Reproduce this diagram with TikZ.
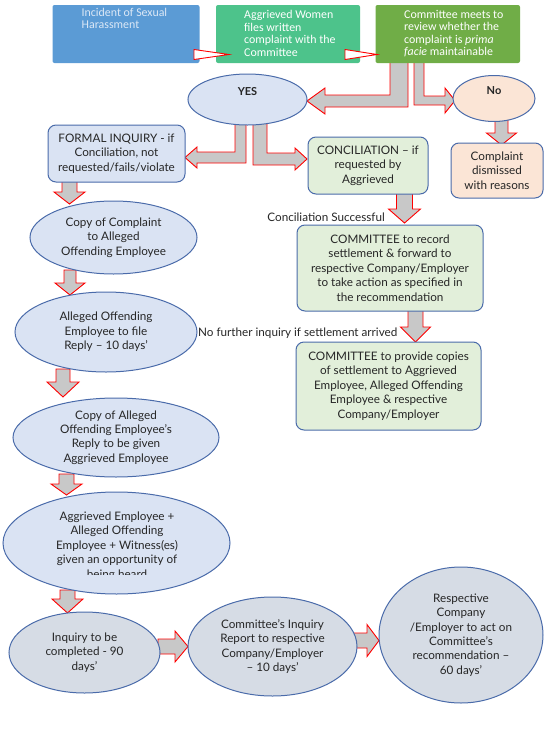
\documentclass[tikz,border=0pt]{standalone}
\usepackage{fontspec}
\setmainfont{Lato}
\newfontfamily\calfont{Carlito}
\usetikzlibrary{shapes.geometric}
\definecolor{bA}{HTML}{5B9BD5}
\definecolor{bB}{HTML}{4DC38B}
\definecolor{bC}{HTML}{70AD47}
\definecolor{bAtxt}{HTML}{DCE8F6}
\definecolor{edge}{HTML}{4A6BAA}
\definecolor{lblue}{HTML}{DAE3F3}
\definecolor{lgray}{HTML}{D6DCE5}
\definecolor{lgreen}{HTML}{E2EFDA}
\definecolor{lpeach}{HTML}{FBE5D6}
\definecolor{agray}{HTML}{C8C8C8}
\definecolor{txt}{HTML}{262626}
\pgfdeclarelayer{background}
\pgfsetlayers{background,main}
\newcommand{\DArrow}[6]{\draw[blk] ({#1-#5},#2) -- ({#1+#5},#2) -- ({#1+#5},#3) -- ({#1+#6},#3) -- (#1,#4) -- ({#1-#6},#3) -- ({#1-#5},#3) -- cycle;}
\newcommand{\RArrow}[6]{\draw[blk] (#2,{#1-#5}) -- (#3,{#1-#5}) -- (#3,{#1-#6}) -- (#4,#1) -- (#3,{#1+#6}) -- (#3,{#1+#5}) -- (#2,{#1+#5}) -- cycle;}
\begin{document}
\begin{tikzpicture}[x=1pt,y=-1pt,
  every node/.style={text=txt, font=\fontsize{11.7}{14.4}\selectfont, align=center},
  topbox/.style={rounded corners=2pt, inner sep=0pt},
  toptext/.style={font=\calfont\fontsize{11.9}{12.4}\selectfont, align=left, inner sep=0pt, anchor=west, text=white},
  rbox/.style={draw=edge, line width=1pt, rounded corners=8pt, inner sep=0pt},
  ell/.style={ellipse, draw=edge, line width=1pt, inner sep=0pt},
  sz/.style 2 args={minimum width=#1, minimum height=#2},
  blk/.style={fill=agray, draw=red, line width=0.9pt, line join=miter},
  tri/.style={fill=white, draw=red, line width=0.9pt, line join=miter},
  plain/.style={inner sep=0pt}]
\useasboundingbox (0,0) rectangle (546,734);

% top row
\node[topbox, fill=bA, sz={147}{58}] (inc) at (126,34) {};
\node[topbox, fill=bB, sz={144}{58}] (agw) at (288,34) {};
\node[topbox, fill=bC, sz={144.5}{58}] (cmr) at (447.75,34) {};
\node[toptext, text=bAtxt] (inct) at (81.5,18.7) {Incident of Sexual\\Harassment};
\node[toptext] (agwt) at (244,33.5) {Aggrieved Women\\files written\\complaint with the\\Committee};
\node[toptext] (cmrt) at (404,33.5) {Committee meets to\\review whether the\\complaint is \textit{prima}\\\textit{facie} maintainable};
\draw[tri] (194,49.5) -- (229,54.5) -- (194,59.5) -- cycle;
\draw[tri] (345,49.5) -- (377,54.5) -- (345,59.5) -- cycle;

% decision
\node[ell, fill=lblue, sz={119}{51}, font=\bfseries\fontsize{11}{13}\selectfont, text height=8pt, text depth=16pt] (yes) at (247.5,99.5) {YES};
\node[ell, fill=lpeach, sz={82}{46}, font=\bfseries\fontsize{11}{13}\selectfont, text height=8pt, text depth=16pt] (no) at (494,98.5) {No};

% boxes
\node[rbox, fill=lblue, sz={137}{57}] (fi) at (116.5,153.5) {FORMAL INQUIRY - if\\Conciliation, not\\requested/fails/violate};
\node[rbox, fill=lgreen, sz={120}{57}] (conc) at (368,165.5) {CONCILIATION – if\\requested by\\Aggrieved};
\node[rbox, fill=lpeach, sz={92}{55}] (dis) at (497,170.5) {Complaint\\dismissed\\with reasons};
\node[rbox, fill=lgreen, sz={186}{86}] (rec) at (390,268) {COMMITTEE to record\\settlement \& forward to\\respective Company/Employer\\to take action as specified in\\the recommendation};
\node[rbox, fill=lgreen, sz={185}{88}] (prov) at (388.5,386) {COMMITTEE to provide copies\\of settlement to Aggrieved\\Employee, Alleged Offending\\Employee \& respective\\Company/Employer};
\node[plain, anchor=east] (cs) at (385,217) {Conciliation Successful};
\node[plain, anchor=west] (nf) at (198,333) {No further inquiry if settlement arrived};

% left column
\node[ell, fill=lblue, sz={167}{73}] (cc) at (113.5,237.5) {Copy of Complaint\\to Alleged\\Offending Employee};
\node[ell, fill=lblue, sz={182}{80}] (ao) at (106,332) {Alleged Offending\\Employee to file\\Reply – 10 days’};
\node[ell, fill=lblue, sz={206}{79}] (ca) at (116,437.5) {Copy of Alleged\\Offending Employee’s\\Reply to be given\\Aggrieved Employee};
\node[ell, fill=lblue, sz={227}{102}] (ag) at (116.5,543) {};
\begin{scope}
\clip (0,490) rectangle (546,574.5);
\node (agt) at (117,546) {Aggrieved Employee +\\Alleged Offending\\Employee + Witness(es)\\given an opportunity of\\being heard};
\end{scope}

% bottom row
\node[ell, fill=lgray, sz={151}{81}] (inq) at (84.5,652.5) {Inquiry to be\\completed - 90\\days’};
\node[ell, fill=lgray, sz={169}{99}] (rep) at (272.5,646.5) {Committee’s Inquiry\\Report to respective\\Company/Employer\\– 10 days’};
\node[ell, fill=lgray, sz={164}{136}] (resp) at (461,635) {Respective\\Company\\/Employer to act on\\Committee’s\\recommendation –\\60 days’};

\begin{pgfonlayer}{background}
% cmr -> yes, cmr -> no
\draw[blk] (390,60) -- (408,60) -- (408,107) -- (325,107) -- (325,114) -- (307,101) -- (325,88) -- (325,95) -- (390,95) -- cycle;
\draw[blk] (414,60) -- (424,60) -- (424,96) -- (445,96) -- (445,88) -- (455,100.5) -- (445,113) -- (445,105) -- (414,105) -- cycle;
% yes -> fi, yes -> conc
\draw[blk] (235,118) -- (246,118) -- (246,163) -- (197,163) -- (197,168) -- (185,157.5) -- (197,147) -- (197,152) -- (235,152) -- cycle;
\draw[blk] (253,118) -- (267,118) -- (267,153) -- (295,153) -- (295,148) -- (307,159) -- (295,170) -- (295,165) -- (253,165) -- cycle;
% no -> dis
\DArrow{501.5}{118}{133}{145}{6.5}{15}
% conc -> rec, rec -> prov
\DArrow{404.5}{192}{209}{223}{8}{16}
\DArrow{415.5}{309}{327}{342}{7.5}{15}
% left column
\DArrow{69.5}{180}{192}{204}{7.5}{15.5}
\DArrow{70}{270}{283}{295}{6}{15}
\DArrow{63}{369}{382}{397}{7}{16}
\DArrow{66.5}{474}{484}{495}{7.5}{15.5}
\DArrow{67.5}{590}{599}{613}{7.5}{15.5}
% bottom row
\RArrow{646.5}{158}{175}{188}{7.5}{15.5}
\RArrow{640.5}{352}{367}{379}{7.5}{16}
\end{pgfonlayer}
\end{tikzpicture}
\end{document}
